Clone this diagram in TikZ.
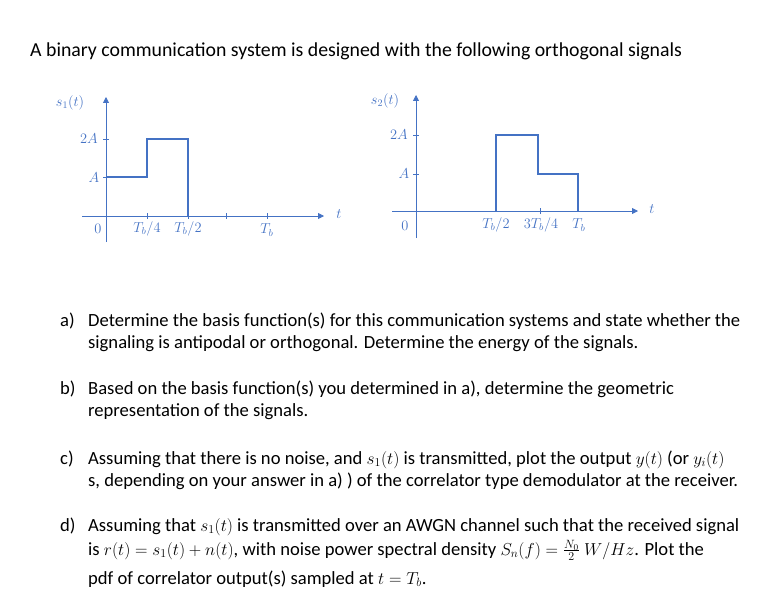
\documentclass[tikz,border=0pt]{standalone}
\usepackage{fontspec}
\setmainfont{Carlito}
\usetikzlibrary{arrows.meta}
\definecolor{bl}{HTML}{4472C4}
\begin{document}
\begin{tikzpicture}[x=1pt,y=-1pt,
 txt/.style={anchor=base west,inner sep=0,font=\fontsize{18.6}{20}\selectfont},
 ax/.style={bl,line width=0.8pt,-{Triangle[length=6pt,width=6pt]}},
 sig/.style={bl,line width=1.6pt},
 lab/.style={bl,font=\fontsize{14}{15}\selectfont,inner sep=0},
 tk/.style={bl,line width=0.6pt}]
\useasboundingbox (0,0) rectangle (762,599);
\node[txt,font=\fontsize{19.8}{22}\selectfont] (title) at (30,57) {A binary communication system is designed with the following orthogonal signals};
% plot 1
\draw[ax] (82,216) -- (324,216);
\draw[ax] (106,242) -- (106,97);
\foreach \x in {147,188,226,267}{\draw[tk] (\x,213)--(\x,219);}
\foreach \y in {139,177}{\draw[tk] (103,\y)--(109,\y);}
\draw[sig] (106,177) -- (147,177) -- (147,139) -- (188,139) -- (188,216);
\node[lab] (s1) at (70,103) {$s_1(t)$};
\node[lab] (a21) at (89,139) {$2A$};
\node[lab] (a1) at (94,178) {$A$};
\node[lab] (z1) at (98,229) {$0$};
\node[lab] (q1) at (147,229) {$T_b/4$};
\node[lab] (h1) at (188,229) {$T_b/2$};
\node[lab] (t1) at (267,230) {$T_b$};
\node[lab,font=\fontsize{15}{15}\selectfont] (tt1) at (339,214) {$t$};
% plot 2
\draw[ax] (392,211) -- (638,211);
\draw[ax] (416,238) -- (416,95);
\foreach \x in {540}{\draw[tk] (\x,208)--(\x,214);}
\foreach \y in {135,174}{\draw[tk] (413,\y)--(419,\y);}
\draw[sig] (496,211) -- (496,135) -- (538,135) -- (538,174) -- (578,174) -- (578,211);
\node[lab] (s2) at (385,101) {$s_2(t)$};
\node[lab] (a22) at (399,135) {$2A$};
\node[lab] (a2) at (404,174) {$A$};
\node[lab] (z2) at (405,226) {$0$};
\node[lab] (h2) at (496,225) {$T_b/2$};
\node[lab] (q2) at (541,225) {$3T_b/4$};
\node[lab] (t2) at (579,225) {$T_b$};
\node[lab,font=\fontsize{15}{15}\selectfont] (tt2) at (652,209) {$t$};
% questions
\node[txt] (la) at (60,326) {a)};
\node[txt] (a1t) at (88,326) {Determine the basis function(s) for this communication systems and state whether the};
\node[txt] (a2t) at (88,348) {signaling is antipodal or orthogonal. Determine the energy of the signals.};
\node[txt] (lb) at (60,394) {b)};
\node[txt] (b1t) at (88,394) {Based on the basis function(s) you determined in a), determine the geometric};
\node[txt] (b2t) at (88,416) {representation of the signals.};
\node[txt] (lc) at (60,464) {c)};
\node[txt] (c1t) at (88,464) {Assuming that there is no noise, and $s_1(t)$ is transmitted, plot the output $y(t)$ (or $y_i(t)$};
\node[txt] (c2t) at (88,486) {s, depending on your answer in a) ) of the correlator type demodulator at the receiver.};
\node[txt] (ld) at (60,531) {d)};
\node[txt] (d1t) at (88,531) {Assuming that $s_1(t)$ is transmitted over an AWGN channel such that the received signal};
\node[txt] (d2t) at (88,555) {is $r(t)=s_1(t)+n(t)$, with noise power spectral density $S_n(f)=\frac{N_0}{2}\ W/Hz$. Plot the};
\node[txt] (d3t) at (88,584) {pdf of correlator output(s) sampled at $t=T_b$.};
\end{tikzpicture}
\end{document}
